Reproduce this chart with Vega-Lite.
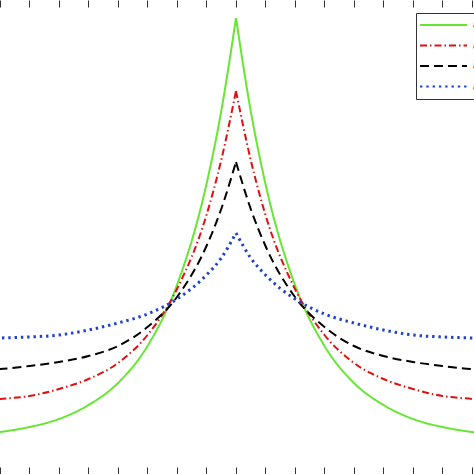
{
  "$schema": "https://vega.github.io/schema/vega-lite/v6.json",
  "description": "Four cusped exponential profiles",
  "width": 474,
  "height": 474,
  "autosize": {"type": "none"},
  "padding": 0,
  "config": {
    "view": {"stroke": null},
    "font": "Liberation Sans",
    "axis": {
      "labels": false,
      "domain": false,
      "grid": false,
      "title": null,
      "tickSize": -7,
      "tickWidth": 1,
      "tickColor": "#333333",
      "values": [-4, -3, -2, -1, 0, 1, 2, 3, 4]
    },
    "legend": {
      "title": null,
      "orient": "none",
      "legendX": 416,
      "legendY": 13,
      "padding": 3,
      "clipHeight": 18,
      "rowPadding": 2.5,
      "symbolType": "stroke",
      "symbolSize": 2209,
      "symbolStrokeWidth": 2,
      "labelOffset": 5,
      "labelFontSize": 11,
      "labelColor": "#000000",
      "fillColor": "#ffffff",
      "strokeColor": "#333333"
    }
  },
  "data": {
    "values": [
      {"s": "a = 4", "h": "L", "x": -4.5, "y": 0.39},
      {"s": "a = 4", "h": "L", "x": -4, "y": 0.42},
      {"s": "a = 4", "h": "L", "x": -3.5, "y": 0.47},
      {"s": "a = 4", "h": "L", "x": -3, "y": 0.55},
      {"s": "a = 4", "h": "L", "x": -2.5, "y": 0.69},
      {"s": "a = 4", "h": "L", "x": -2, "y": 0.91},
      {"s": "a = 4", "h": "L", "x": -1.5, "y": 1.28},
      {"s": "a = 4", "h": "L", "x": -1, "y": 1.89},
      {"s": "a = 4", "h": "L", "x": -0.5, "y": 2.90},
      {"s": "a = 4", "h": "L", "x": -0.25, "y": 3.63},
      {"s": "a = 4", "h": "L", "x": 0, "y": 4.56},
      {"s": "a = 4", "h": "R", "x": 0, "y": 4.56},
      {"s": "a = 4", "h": "R", "x": 0.25, "y": 3.63},
      {"s": "a = 4", "h": "R", "x": 0.5, "y": 2.90},
      {"s": "a = 4", "h": "R", "x": 1, "y": 1.89},
      {"s": "a = 4", "h": "R", "x": 1.5, "y": 1.28},
      {"s": "a = 4", "h": "R", "x": 2, "y": 0.91},
      {"s": "a = 4", "h": "R", "x": 2.5, "y": 0.69},
      {"s": "a = 4", "h": "R", "x": 3, "y": 0.55},
      {"s": "a = 4", "h": "R", "x": 3.5, "y": 0.47},
      {"s": "a = 4", "h": "R", "x": 4, "y": 0.42},
      {"s": "a = 4", "h": "R", "x": 4.5, "y": 0.39},

      {"s": "a = 3", "h": "L", "x": -4.5, "y": 0.72},
      {"s": "a = 3", "h": "L", "x": -4, "y": 0.75},
      {"s": "a = 3", "h": "L", "x": -3.5, "y": 0.78},
      {"s": "a = 3", "h": "L", "x": -3, "y": 0.85},
      {"s": "a = 3", "h": "L", "x": -2.5, "y": 0.95},
      {"s": "a = 3", "h": "L", "x": -2, "y": 1.11},
      {"s": "a = 3", "h": "L", "x": -1.5, "y": 1.39},
      {"s": "a = 3", "h": "L", "x": -1, "y": 1.85},
      {"s": "a = 3", "h": "L", "x": -0.5, "y": 2.59},
      {"s": "a = 3", "h": "L", "x": -0.25, "y": 3.14},
      {"s": "a = 3", "h": "L", "x": 0, "y": 3.83},
      {"s": "a = 3", "h": "R", "x": 0, "y": 3.83},
      {"s": "a = 3", "h": "R", "x": 0.25, "y": 3.14},
      {"s": "a = 3", "h": "R", "x": 0.5, "y": 2.59},
      {"s": "a = 3", "h": "R", "x": 1, "y": 1.85},
      {"s": "a = 3", "h": "R", "x": 1.5, "y": 1.39},
      {"s": "a = 3", "h": "R", "x": 2, "y": 1.11},
      {"s": "a = 3", "h": "R", "x": 2.5, "y": 0.95},
      {"s": "a = 3", "h": "R", "x": 3, "y": 0.85},
      {"s": "a = 3", "h": "R", "x": 3.5, "y": 0.78},
      {"s": "a = 3", "h": "R", "x": 4, "y": 0.75},
      {"s": "a = 3", "h": "R", "x": 4.5, "y": 0.72},

      {"s": "a = 2", "h": "L", "x": -4.5, "y": 1.04},
      {"s": "a = 2", "h": "L", "x": -4, "y": 1.05},
      {"s": "a = 2", "h": "L", "x": -3.5, "y": 1.08},
      {"s": "a = 2", "h": "L", "x": -3, "y": 1.12},
      {"s": "a = 2", "h": "L", "x": -2.5, "y": 1.18},
      {"s": "a = 2", "h": "L", "x": -2, "y": 1.28},
      {"s": "a = 2", "h": "L", "x": -1.5, "y": 1.47},
      {"s": "a = 2", "h": "L", "x": -1, "y": 1.77},
      {"s": "a = 2", "h": "L", "x": -0.5, "y": 2.28},
      {"s": "a = 2", "h": "L", "x": -0.25, "y": 2.65},
      {"s": "a = 2", "h": "L", "x": 0, "y": 3.12},
      {"s": "a = 2", "h": "R", "x": 0, "y": 3.12},
      {"s": "a = 2", "h": "R", "x": 0.25, "y": 2.65},
      {"s": "a = 2", "h": "R", "x": 0.5, "y": 2.28},
      {"s": "a = 2", "h": "R", "x": 1, "y": 1.77},
      {"s": "a = 2", "h": "R", "x": 1.5, "y": 1.47},
      {"s": "a = 2", "h": "R", "x": 2, "y": 1.28},
      {"s": "a = 2", "h": "R", "x": 2.5, "y": 1.18},
      {"s": "a = 2", "h": "R", "x": 3, "y": 1.12},
      {"s": "a = 2", "h": "R", "x": 3.5, "y": 1.08},
      {"s": "a = 2", "h": "R", "x": 4, "y": 1.05},
      {"s": "a = 2", "h": "R", "x": 4.5, "y": 1.04},

      {"s": "a = 1", "h": "L", "x": -4.5, "y": 1.35},
      {"s": "a = 1", "h": "L", "x": -4, "y": 1.36},
      {"s": "a = 1", "h": "L", "x": -3.5, "y": 1.37},
      {"s": "a = 1", "h": "L", "x": -3, "y": 1.39},
      {"s": "a = 1", "h": "L", "x": -2.5, "y": 1.44},
      {"s": "a = 1", "h": "L", "x": -2, "y": 1.51},
      {"s": "a = 1", "h": "L", "x": -1.5, "y": 1.60},
      {"s": "a = 1", "h": "L", "x": -1, "y": 1.75},
      {"s": "a = 1", "h": "L", "x": -0.5, "y": 1.99},
      {"s": "a = 1", "h": "L", "x": -0.25, "y": 2.16},
      {"s": "a = 1", "h": "L", "x": 0, "y": 2.41},
      {"s": "a = 1", "h": "R", "x": 0, "y": 2.41},
      {"s": "a = 1", "h": "R", "x": 0.25, "y": 2.16},
      {"s": "a = 1", "h": "R", "x": 0.5, "y": 1.99},
      {"s": "a = 1", "h": "R", "x": 1, "y": 1.75},
      {"s": "a = 1", "h": "R", "x": 1.5, "y": 1.60},
      {"s": "a = 1", "h": "R", "x": 2, "y": 1.51},
      {"s": "a = 1", "h": "R", "x": 2.5, "y": 1.44},
      {"s": "a = 1", "h": "R", "x": 3, "y": 1.39},
      {"s": "a = 1", "h": "R", "x": 3.5, "y": 1.37},
      {"s": "a = 1", "h": "R", "x": 4, "y": 1.36},
      {"s": "a = 1", "h": "R", "x": 4.5, "y": 1.35}
    ]
  },
  "encoding": {
    "x": {
      "field": "x",
      "type": "quantitative",
      "scale": {"domain": [-4, 4.034], "nice": false, "zero": false}
    },
    "y": {
      "field": "y",
      "type": "quantitative",
      "scale": {"domain": [0, 4.74], "nice": false},
      "axis": null
    },
    "detail": {"field": "h"},
    "color": {
      "field": "s",
      "type": "nominal",
      "scale": {
        "domain": ["a = 4", "a = 3", "a = 2", "a = 1"],
        "range": ["#66e633", "#dd1111", "#000000", "#2040d0"]
      }
    },
    "strokeDash": {
      "field": "s",
      "type": "nominal",
      "scale": {
        "domain": ["a = 4", "a = 3", "a = 2", "a = 1"],
        "range": [[1, 0], [7, 3, 1.5, 3], [9, 5], [2.4, 3.9]]
      }
    }
  },
  "layer": [
    {
      "transform": [{"filter": "datum.s !== 'a = 1'"}],
      "mark": {"type": "line", "interpolate": "monotone", "strokeWidth": 2, "clip": true},
      "encoding": {
        "x": {"field": "x", "type": "quantitative", "axis": {"orient": "bottom"}}
      }
    },
    {
      "transform": [{"filter": "datum.s === 'a = 1'"}],
      "mark": {"type": "line", "interpolate": "monotone", "strokeWidth": 3, "clip": true},
      "encoding": {
        "x": {"field": "x", "type": "quantitative", "axis": {"orient": "top"}}
      }
    }
  ],
  "resolve": {"axis": {"x": "independent"}}
}
